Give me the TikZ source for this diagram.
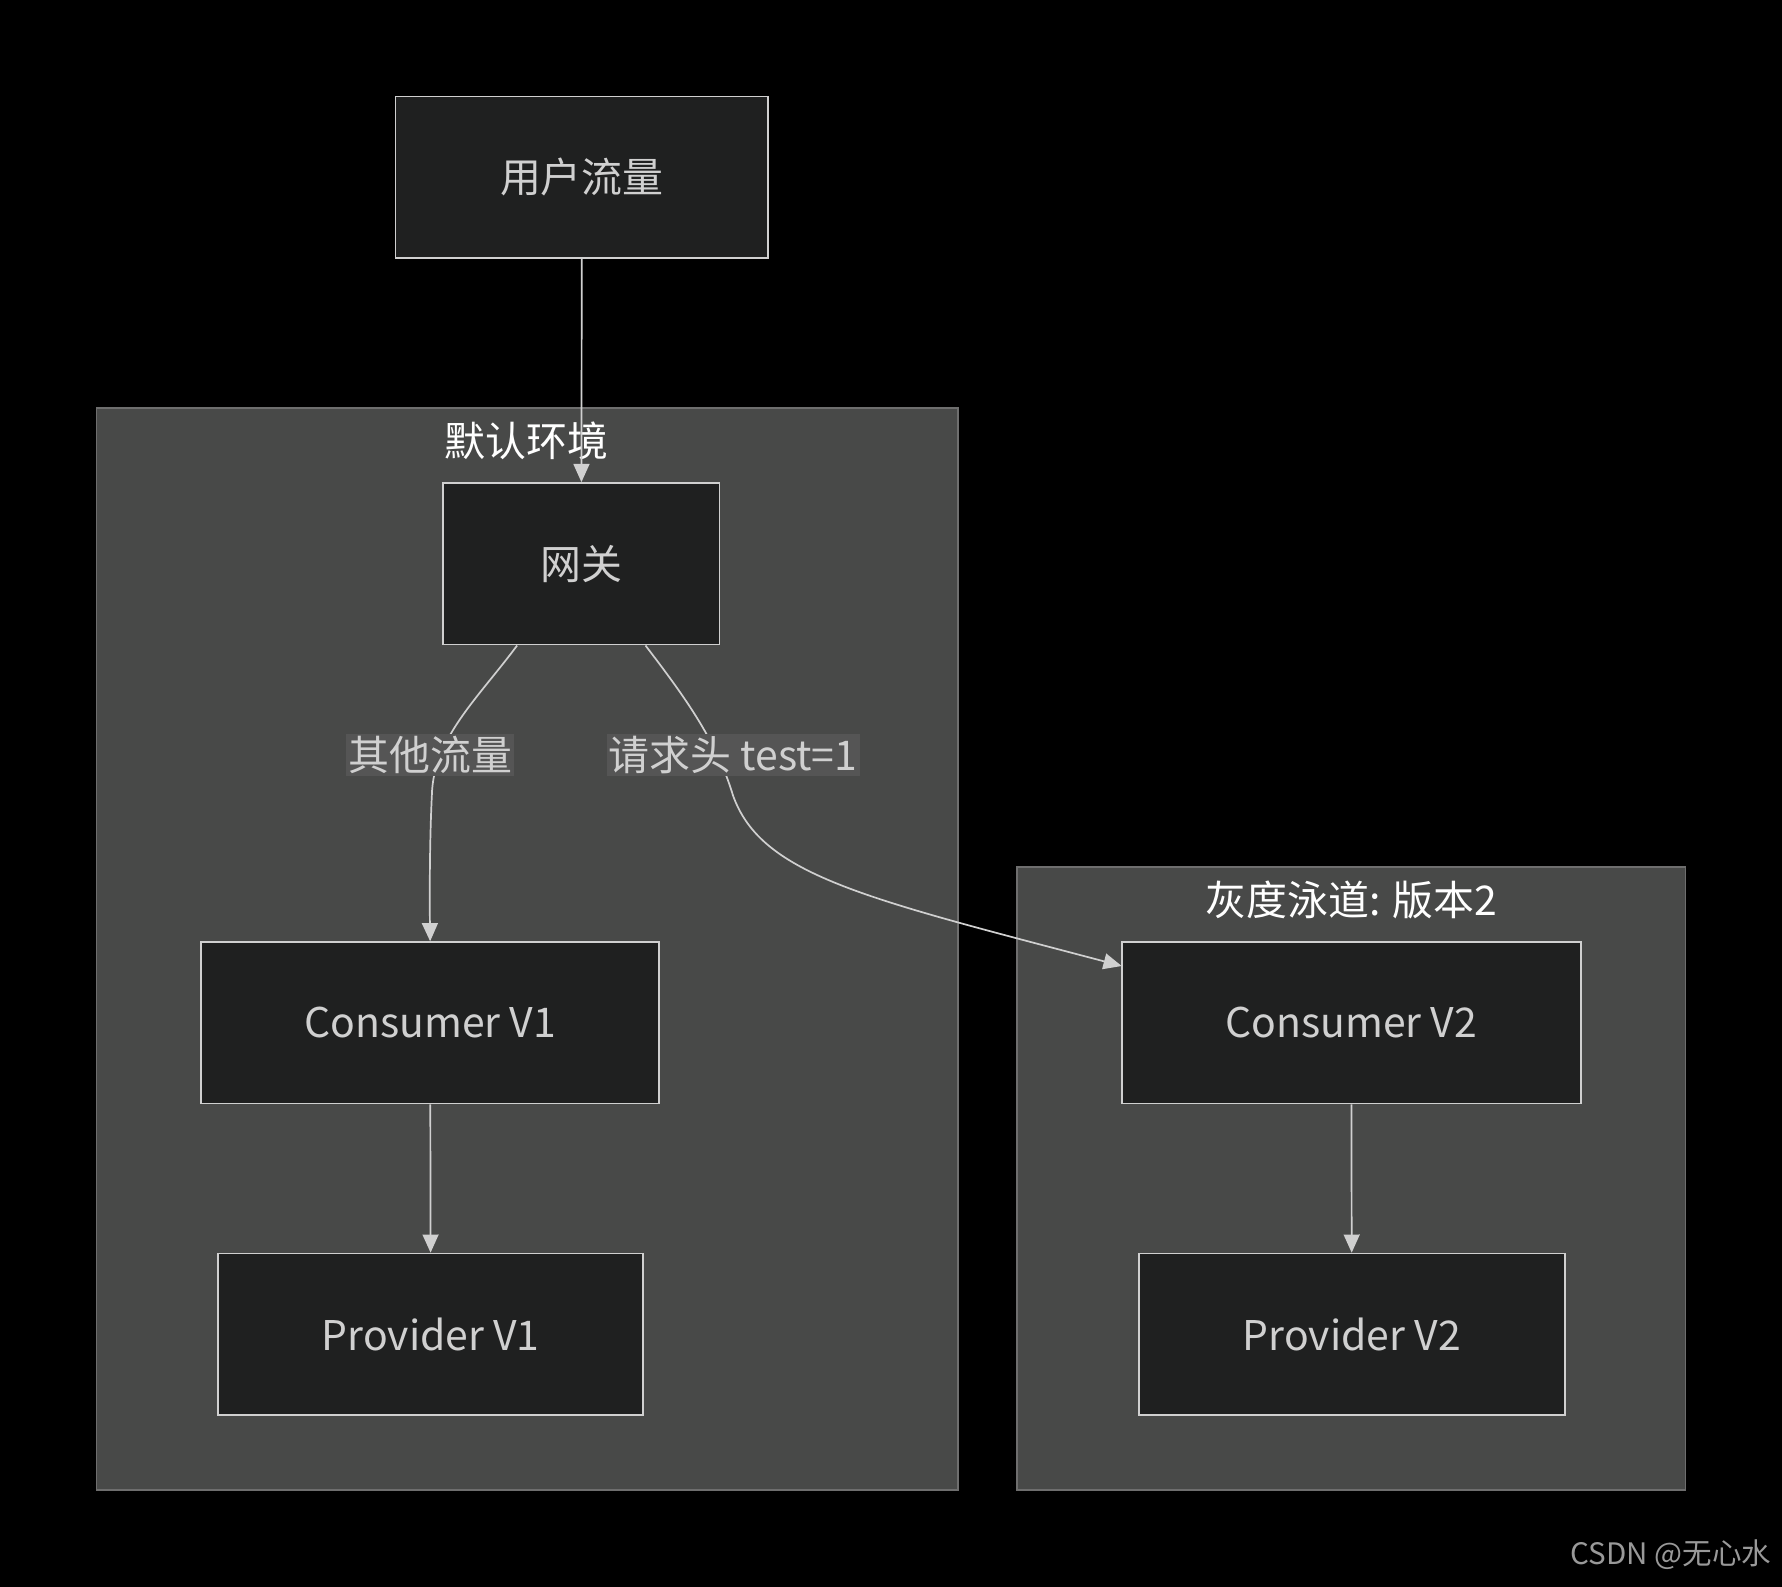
\documentclass[tikz,border=0pt]{standalone}
\usepackage{fontspec}
\setmainfont{Noto Sans CJK SC}
\usetikzlibrary{arrows.meta}
\definecolor{clus}{HTML}{484948}
\definecolor{clusb}{HTML}{6E6E6E}
\definecolor{nfill}{HTML}{1F2020}
\definecolor{txt}{HTML}{D0D0D0}
\definecolor{lbl}{HTML}{555555}
\begin{document}
\begin{tikzpicture}[x=1pt,y=-1pt,
  box/.style={draw=txt,fill=nfill,line width=1.5pt,text=txt,font=\fontsize{36}{40}\selectfont,inner sep=0pt},
  clu/.style={draw=clusb,fill=clus,line width=1.5pt},
  ttl/.style={text=white,font=\fontsize{36}{40}\selectfont},
  el/.style={fill=lbl,text=txt,font=\fontsize{36}{40}\selectfont,inner sep=2pt},
  ar/.style={draw=txt,line width=1.5pt,-{Triangle[length=16pt,width=14pt]}}]
\fill[black] (0,0) rectangle (1568,1396);
\useasboundingbox (0,0) rectangle (1568,1396);
\draw[clu] (85,359) rectangle (843,1311);
\draw[clu] (895,763) rectangle (1483,1311);
\node[ttl] (t1) at (463,388) {默认环境};
\node[ttl] (t2) at (1189,792) {灰度泳道: 版本2};
\node[box,minimum width=328pt,minimum height=142pt] (u) at (512,156) {用户流量};
\node[box,minimum width=243pt,minimum height=142pt] (g) at (511.5,496) {网关};
\node[box,minimum width=403pt,minimum height=142pt] (c1) at (378.5,900) {Consumer V1};
\node[box,minimum width=374pt,minimum height=142pt] (p1) at (379,1174) {Provider V1};
\node[box,minimum width=404pt,minimum height=142pt] (c2) at (1189,900) {Consumer V2};
\node[box,minimum width=375pt,minimum height=142pt] (p2) at (1189.5,1174) {Provider V2};
\draw[ar] (u) -- (g);
\draw[ar] (c1) -- (p1);
\draw[ar] (c2) -- (p2);
\coordinate (gl) at (455,568);
\coordinate (gr) at (568,568);
\draw[ar] (gl) .. controls (420,615) and (381,650) .. (380,700) .. controls (378,740) and (378,790) .. (c1.north);
\draw[ar] (gr) .. controls (600,610) and (630,650) .. (645,700) .. controls (670,770) and (760,790) .. (987,850);
\node[el] (l1) at (378.5,664.5) {其他流量};
\node[el] (l2) at (645,664.5) {请求头 test=1};
\node[text=gray!80,font=\fontsize{26}{28}\selectfont,anchor=east] (w) at (1562,1368) {CSDN @无心水};
\end{tikzpicture}
\end{document}
